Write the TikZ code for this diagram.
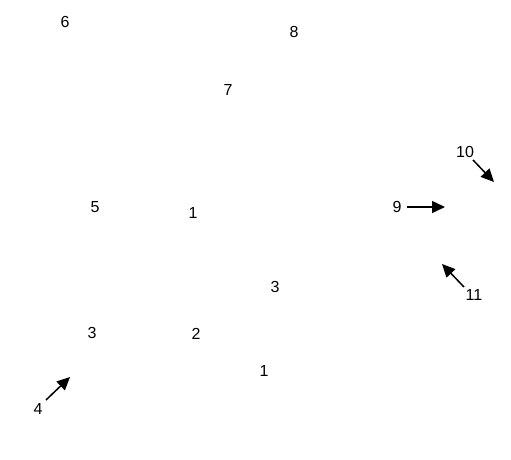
\documentclass[tikz,border=0pt]{standalone}
\usepackage{fontspec}
\setmainfont{Liberation Sans}
\usetikzlibrary{arrows.meta}
\begin{document}
\begin{tikzpicture}[x=1pt,y=-1pt,
  lbl/.style={inner sep=0pt,font=\fontsize{16}{18}\selectfont},
  pointer/.style={line width=1.5pt,-{Triangle[length=13pt,width=12pt]}}]
\useasboundingbox (0,0) rectangle (511,460);
\node[lbl] (n6) at (65,22) {6};
\node[lbl] (n8) at (294,32) {8};
\node[lbl] (n7) at (228,90) {7};
\node[lbl] (n10) at (465,152) {10};
\node[lbl] (n5) at (95,207) {5};
\node[lbl] (n1a) at (193,213) {1};
\node[lbl] (n9) at (397,207) {9};
\node[lbl] (n11) at (474,295) {11};
\node[lbl] (n3a) at (275,287) {3};
\node[lbl] (n3b) at (92,333) {3};
\node[lbl] (n2) at (196,334) {2};
\node[lbl] (n1b) at (264,371) {1};
\node[lbl] (n4) at (38,409) {4};
\coordinate (t9) at (445,207);
\coordinate (t10) at (494,182);
\coordinate (t11) at (442,264);
\coordinate (t4) at (70,377);
\draw[pointer] (407,207) -- (t9);
\draw[pointer] (473,160) -- (t10);
\draw[pointer] (464,287) -- (t11);
\draw[pointer] (46,400) -- (t4);
\end{tikzpicture}
\end{document}
